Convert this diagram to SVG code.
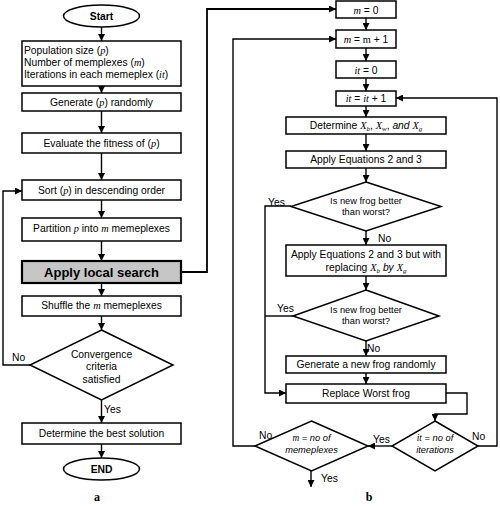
<svg xmlns="http://www.w3.org/2000/svg" width="500" height="506" viewBox="0 0 500 506">
<style>
.bx{fill:#fff;stroke:#000;stroke-width:1.5}
.hl{fill:#c6c6c6;stroke:#000;stroke-width:2.2}
.ln{fill:none;stroke:#000;stroke-width:1.4}
.t{font-family:"Liberation Sans",Arial,sans-serif;font-size:10.3px;fill:#000}
.s{font-family:"Liberation Sans",Arial,sans-serif;font-size:9.3px;fill:#000}
.c{text-anchor:middle}
.v{font-family:"Liberation Serif","Times New Roman",serif;font-style:italic}
.i{font-style:italic}
.b{font-weight:bold}
.lab{font-family:"Liberation Serif","Times New Roman",serif;font-weight:bold;font-size:12px;text-anchor:middle}
</style>
<defs>
<marker id="ah" viewBox="0 0 10 10" refX="10" refY="5" markerWidth="7" markerHeight="7" markerUnits="userSpaceOnUse" orient="auto"><path d="M0,0 L10,5 L0,10 z" fill="#000"/></marker>
</defs>

<g id="connectors">
<line class="ln" x1="101.5" y1="27" x2="101.5" y2="41" marker-end="url(#ah)"/>
<line class="ln" x1="101.5" y1="86" x2="101.5" y2="93" marker-end="url(#ah)"/>
<line class="ln" x1="101.5" y1="111" x2="101.5" y2="133" marker-end="url(#ah)"/>
<line class="ln" x1="101.5" y1="153" x2="101.5" y2="180" marker-end="url(#ah)"/>
<line class="ln" x1="101.5" y1="200" x2="101.5" y2="218" marker-end="url(#ah)"/>
<line class="ln" x1="101.5" y1="241" x2="101.5" y2="261" marker-end="url(#ah)"/>
<line class="ln" x1="101.5" y1="283" x2="101.5" y2="296" marker-end="url(#ah)"/>
<line class="ln" x1="101.5" y1="316" x2="101.5" y2="330" marker-end="url(#ah)"/>
<line class="ln" x1="101.5" y1="400" x2="101.5" y2="423" marker-end="url(#ah)"/>
<line class="ln" x1="101.5" y1="444" x2="101.5" y2="458" marker-end="url(#ah)"/>
<polyline class="ln" points="30,365 3,365 3,191 22,191" marker-end="url(#ah)"/>
<polyline class="ln" points="181,272 207,272 207,9 336,9" marker-end="url(#ah)" style="stroke-width:1.8"/>
<line class="ln" x1="366" y1="18" x2="366" y2="30" marker-end="url(#ah)"/>
<line class="ln" x1="366" y1="48" x2="366" y2="61" marker-end="url(#ah)"/>
<line class="ln" x1="366" y1="78" x2="366" y2="91" marker-end="url(#ah)"/>
<line class="ln" x1="366" y1="106" x2="366" y2="117" marker-end="url(#ah)"/>
<line class="ln" x1="366" y1="134" x2="366" y2="151" marker-end="url(#ah)"/>
<line class="ln" x1="366" y1="168" x2="366" y2="182" marker-end="url(#ah)"/>
<line class="ln" x1="366" y1="231" x2="366" y2="245" marker-end="url(#ah)"/>
<line class="ln" x1="366" y1="276" x2="366" y2="290" marker-end="url(#ah)"/>
<line class="ln" x1="366" y1="341" x2="366" y2="356" marker-end="url(#ah)"/>
<line class="ln" x1="366" y1="373" x2="366" y2="384" marker-end="url(#ah)"/>
<polyline class="ln" points="291,206 265,206 265,393 286,393" marker-end="url(#ah)"/>
<line class="ln" x1="293" y1="316" x2="265" y2="316"/>
<polyline class="ln" points="446,393 467,393 467,414 435,414 435,421" marker-end="url(#ah)"/>
<polyline class="ln" points="478,446 497,446 497,98 396,98" marker-end="url(#ah)"/>
<line class="ln" x1="392" y1="446" x2="368" y2="446" marker-end="url(#ah)"/>
<polyline class="ln" points="255,446 233,446 233,39 336,39" marker-end="url(#ah)"/>
<line class="ln" x1="311" y1="471" x2="311" y2="487" marker-end="url(#ah)"/>
</g>

<g id="edge-labels">
<text class="t" x="12" y="361">No</text>
<text class="t" x="104" y="413">Yes</text>
<text class="t" x="268" y="206">Yes</text>
<text class="t" x="378" y="242">No</text>
<text class="t" x="277" y="312">Yes</text>
<text class="t" x="367" y="352">No</text>
<text class="t" x="472" y="440">No</text>
<text class="t" x="373" y="443">Yes</text>
<text class="t" x="259" y="439">No</text>
<text class="t" x="321" y="482">Yes</text>
</g>

<g id="start"><ellipse class="bx" cx="101.5" cy="16" rx="38" ry="11"/><text class="t c b" x="101.5" y="19.5">Start</text></g>
<g id="params"><rect class="bx" x="22" y="41" width="159" height="45"/>
<text class="t" x="24" y="54">Population size (<tspan class="v">p</tspan>)</text>
<text class="t" x="24" y="66">Number of memplexes (<tspan class="v">m</tspan>)</text>
<text class="t" x="24" y="78">Iterations in each memeplex (<tspan class="v">it</tspan>)</text></g>
<g id="generate"><rect class="bx" x="22" y="93" width="159" height="18"/><text class="t c" x="101.5" y="105.5">Generate (<tspan class="v">p</tspan>) randomly</text></g>
<g id="evaluate"><rect class="bx" x="22" y="133" width="159" height="20"/><text class="t c" x="101.5" y="146.5">Evaluate the fitness of (<tspan class="v">p</tspan>)</text></g>
<g id="sort"><rect class="bx" x="22" y="180" width="159" height="20"/><text class="t c" x="101.5" y="193.5">Sort (<tspan class="v">p</tspan>) in descending order</text></g>
<g id="partition"><rect class="bx" x="22" y="218" width="159" height="23"/><text class="t c" x="101.5" y="231.5">Partition <tspan class="v">p</tspan> into <tspan class="v">m</tspan> memeplexes</text></g>
<g id="local-search"><rect class="hl" x="22" y="261" width="159" height="22"/><text class="t c b" style="font-size:13px" x="101.5" y="276.5">Apply local search</text></g>
<g id="shuffle"><rect class="bx" x="22" y="296" width="159" height="20"/><text class="t c" x="101.5" y="309">Shuffle the <tspan class="v">m</tspan> memeplexes</text></g>
<g id="convergence"><polygon class="bx" points="101.5,330 173,365 101.5,400 30,365"/>
<text class="t c" x="101.5" y="357.5">Convergence</text>
<text class="t c" x="101.5" y="370">criteria</text>
<text class="t c" x="101.5" y="382.5">satisfied</text></g>
<g id="best"><rect class="bx" x="22" y="423" width="159" height="21"/><text class="t c" x="101.5" y="437">Determine the best solution</text></g>
<g id="end"><ellipse class="bx" cx="101.5" cy="469" rx="38" ry="11"/><text class="t c b" x="101.5" y="473">END</text></g>
<text class="lab" x="97" y="501">a</text>

<g id="m0"><rect class="bx" x="336" y="1" width="60" height="17"/><text class="t c" x="366" y="13.5"><tspan class="v">m</tspan> = 0</text></g>
<g id="m-inc"><rect class="bx" x="336" y="30" width="60" height="18"/><text class="t c" x="366" y="43"><tspan class="v">m</tspan> = <tspan style="font-family:'Liberation Serif',serif">m</tspan> + 1</text></g>
<g id="it0"><rect class="bx" x="336" y="61" width="60" height="17"/><text class="t c" x="366" y="73.5"><tspan class="v">it</tspan> = 0</text></g>
<g id="it-inc"><rect class="bx" x="336" y="91" width="60" height="15"/><text class="t c" x="366" y="102"><tspan class="v">it</tspan> = <tspan class="v">it</tspan> + 1</text></g>
<g id="determine"><rect class="bx" x="286" y="117" width="160" height="17"/><text class="t c" x="366" y="129">Determine <tspan class="v">X</tspan><tspan class="v" style="font-size:7px" dy="2">b</tspan><tspan dy="-2">, </tspan><tspan class="v">X</tspan><tspan class="v" style="font-size:7px" dy="2">w</tspan><tspan dy="-2">, </tspan><tspan class="i">and </tspan><tspan class="v">X</tspan><tspan class="v" style="font-size:7px" dy="2">g</tspan></text></g>
<g id="apply"><rect class="bx" x="286" y="151" width="160" height="17"/><text class="t c" x="366" y="163">Apply Equations 2 and 3</text></g>
<g id="better1"><polygon class="bx" points="366,182 441,206.5 366,231 291,206.5"/>
<text class="s c" x="366" y="204">Is new frog better</text>
<text class="s c" x="366" y="214.5">than worst?</text></g>
<g id="apply-g"><rect class="bx" x="286" y="245" width="160" height="31"/>
<text class="t c" x="366" y="258">Apply Equations 2 and 3 but with</text>
<text class="t c" x="366" y="271">replacing <tspan class="v">X</tspan><tspan class="v" style="font-size:7px" dy="2">b</tspan><tspan dy="-2" class="i"> by  </tspan><tspan class="v">X</tspan><tspan class="v" style="font-size:7px" dy="2">g</tspan></text></g>
<g id="better2"><polygon class="bx" points="366,290 439,316 366,341 293,316"/>
<text class="s c" x="366" y="312.5">Is new frog better</text>
<text class="s c" x="366" y="323.5">than worst?</text></g>
<g id="new-frog"><rect class="bx" x="286" y="356" width="160" height="17"/><text class="t c" x="366" y="368">Generate a new frog randomly</text></g>
<g id="replace"><rect class="bx" x="286" y="384" width="160" height="19"/><text class="t c" x="366" y="397">Replace Worst frog</text></g>
<g id="it-check"><polygon class="bx" points="435,421 478,446 435,471 392,446"/>
<text class="s c i" x="435" y="440.5"><tspan class="v">it</tspan> = no of</text>
<text class="s c i" x="435" y="452.5">iterations</text></g>
<g id="m-check"><polygon class="bx" points="311.5,421 368,446 311.5,471 255,446"/>
<text class="s c i" x="311.5" y="440.5"><tspan class="v">m</tspan> = no of</text>
<text class="s c i" x="311.5" y="452.5">memeplexes</text></g>
<text class="lab" x="369" y="501">b</text>
</svg>
